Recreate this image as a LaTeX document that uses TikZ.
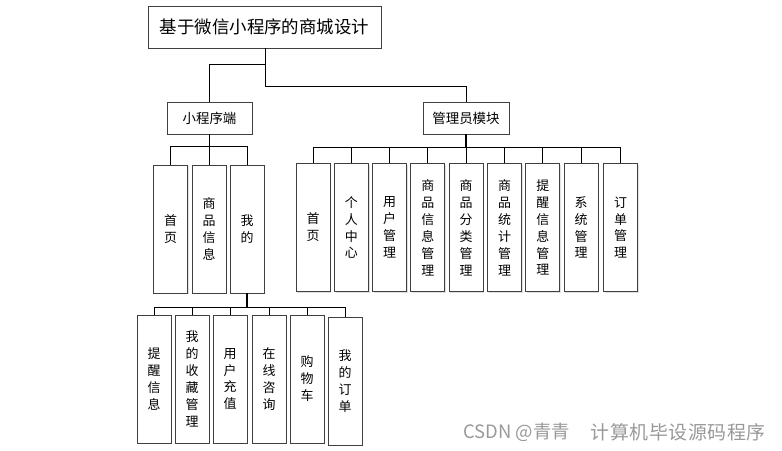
\documentclass[tikz,border=0pt]{standalone}
\usepackage{fontspec}
\setmainfont{Noto Sans CJK SC}
\usetikzlibrary{shadows}
\begin{document}
\begin{tikzpicture}[x=1bp,y=-1bp,
  box/.style={draw=black!75, fill=white, line width=0.9bp, inner sep=0pt,
    drop shadow={shadow xshift=1.2bp, shadow yshift=-1.2bp, fill=blue!10!black!20, opacity=0.6}},
  vbox/.style={box, minimum width=34bp, minimum height=128bp, align=center,
    font=\fontsize{13}{17}\selectfont},
  hbox/.style={box, minimum height=32bp, font=\fontsize{13.5}{16}\selectfont},
  conn/.style={draw=black, line width=0.9bp},
  stem/.style={draw=black, line width=1.4bp},
  wmark/.style={text=black!40, inner sep=0pt}]
\useasboundingbox (0,0) rectangle (782,451);

\node[box, minimum width=233bp, minimum height=42bp, font=\fontsize{17.5}{20}\selectfont] (top) at (264.5,27) {基于微信小程序的商城设计};
\node[hbox, minimum width=85bp] (xcx) at (209.5,118) {小程序端};
\node[hbox, minimum width=86bp] (gly) at (466,118) {管理员模块};

% miniprogram children
\node[vbox] (x1) at (170.5,229) {首\\页};
\node[vbox] (x2) at (209,229) {商\\品\\信\\息};
\node[vbox] (x3) at (247,229) {我\\的};

% admin children
\node[vbox] (g1) at (313,227.5) {首\\页};
\node[vbox] (g2) at (351.3,227.5) {个\\人\\中\\心};
\node[vbox] (g3) at (389.6,227.5) {用\\户\\管\\理};
\node[vbox] (g4) at (427.9,227.5) {商\\品\\信\\息\\管\\理};
\node[vbox] (g5) at (466.2,227.5) {商\\品\\分\\类\\管\\理};
\node[vbox] (g6) at (504.5,227.5) {商\\品\\统\\计\\管\\理};
\node[vbox] (g7) at (542.8,227.5) {提\\醒\\信\\息\\管\\理};
\node[vbox] (g8) at (581.1,227.5) {系\\统\\管\\理};
\node[vbox] (g9) at (620.5,227.5) {订\\单\\管\\理};

% 我的 children
\node[vbox] (w1) at (154,379) {提\\醒\\信\\息};
\node[vbox] (w2) at (192,379) {我\\的\\收\\藏\\管\\理};
\node[vbox] (w3) at (230,379) {用\\户\\充\\值};
\node[vbox] (w4) at (269,379) {在\\线\\咨\\询};
\node[vbox] (w5) at (307,379) {购\\物\\车};
\node[vbox] (w6) at (345,381) {我\\的\\订\\单};

% connectors
\coordinate (j1) at (265,64);
\coordinate (j2) at (265,86);
\draw[conn] (top.south -| j1) -- (j1) -| (xcx.north);
\draw[conn] (j1) -- (j2) -| (gly.north);

\coordinate (bx) at (209.5,146);
\draw[stem] (xcx.south) -- (bx);
\foreach \n in {x1,x2,x3} \draw[conn] (bx) -| (\n.north);

\coordinate (bg) at (466,147);
\draw[stem] (gly.south) -- (bg);
\foreach \n in {g1,g2,g3,g4,g5,g6,g7,g8,g9} \draw[conn] (bg) -| (\n.north);

\coordinate (bw) at (247,307);
\draw[stem] (x3.south) -- (bw);
\foreach \n in {w1,w2,w3,w4,w5,w6} \draw[conn] (bw) -| (\n.north);

\node[wmark, anchor=west, font=\fontsize{18.5}{20}\selectfont] (wm1) at (463,432) {CSDN @青青};
\node[wmark, anchor=east, font={\fontsize{19}{20}\selectfont\addfontfeature{LetterSpace=3}}] (wm2) at (766,432) {计算机毕设源码程序};
\end{tikzpicture}
\end{document}
